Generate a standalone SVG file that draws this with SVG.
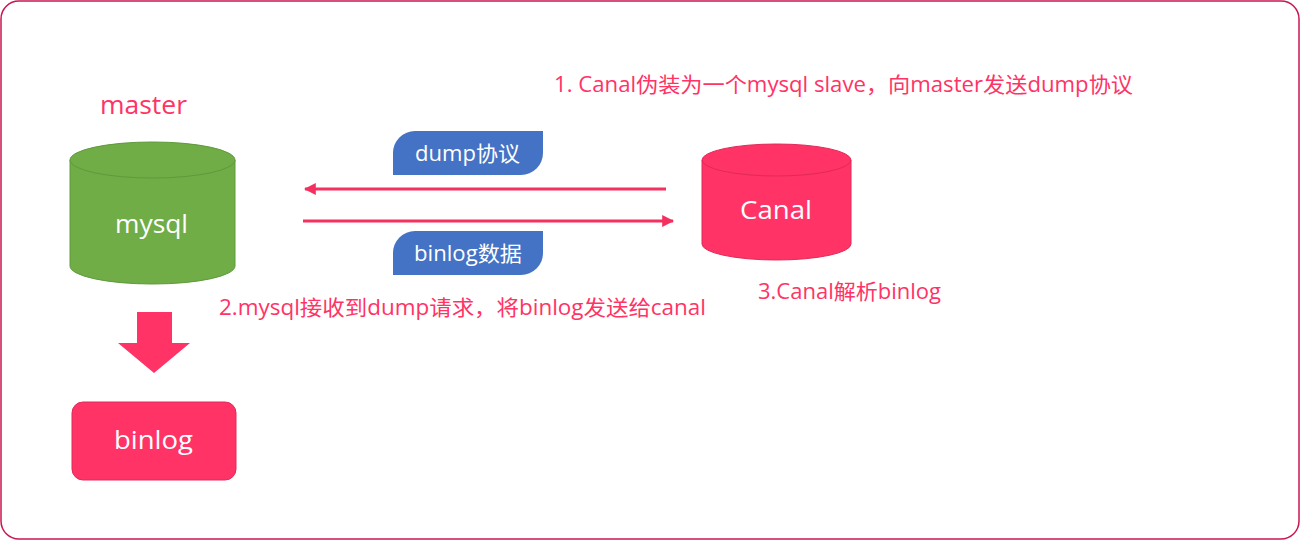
<svg xmlns="http://www.w3.org/2000/svg" width="1301" height="541" viewBox="0 0 1301 541">
<style>
.t{font-family:"Open Sans","Noto Sans CJK SC",sans-serif}
.pk{fill:#ff3366}
.w{fill:#fff}
.line{stroke:#f5305e;stroke-width:3;fill:none}
</style>
<defs>
<marker id="ah" viewBox="0 0 10 10" refX="9" refY="5" markerWidth="4" markerHeight="4" orient="auto-start-reverse"><path d="M0,0L10,5L0,10z" fill="#f5305e"/></marker>
</defs>
<rect x="1" y="1" width="1298" height="538" rx="18" fill="#fff" stroke="#c8174f" stroke-width="1.5"/>
<text class="t pk" x="100" y="114" font-size="25" textLength="87" lengthAdjust="spacingAndGlyphs">master</text>
<g id="mysql">
<path d="M70,160 L70,266 A82.5,18 0 0 0 235,266 L235,160 Z" fill="#70ad47" stroke="#5f9a3b"/>
<ellipse cx="152.5" cy="160" rx="82.5" ry="18" fill="#70ad47" stroke="#5f9a3b"/>
<text class="t w" x="115" y="233" font-size="25" textLength="73" lengthAdjust="spacingAndGlyphs">mysql</text>
</g>
<g id="canal">
<path d="M702,160 L702,244 A74.5,16 0 0 0 851,244 L851,160 Z" fill="#ff3366" stroke="#e02a58"/>
<ellipse cx="776.5" cy="160" rx="74.5" ry="16" fill="#ff3366" stroke="#e02a58"/>
<text class="t w" x="740" y="219" font-size="25" textLength="72" lengthAdjust="spacingAndGlyphs">Canal</text>
</g>
<g id="binlog">
<rect x="72" y="402" width="164" height="78" rx="11" fill="#ff3366" stroke="#e02a58"/>
<text class="t w" x="114" y="449" font-size="25" textLength="79" lengthAdjust="spacingAndGlyphs">binlog</text>
</g>
<g id="label-dump">
<path d="M415,131 L543,131 L543,153 A22,22 0 0 1 521,175 L393,175 L393,153 A22,22 0 0 1 415,131 Z" fill="#4472c4"/>
<text class="t w" x="415" y="161" font-size="21" textLength="105" lengthAdjust="spacingAndGlyphs">dump协议</text>
</g>
<g id="label-binlog">
<path d="M415,231 L543,231 L543,253 A22,22 0 0 1 521,275 L393,275 L393,253 A22,22 0 0 1 415,231 Z" fill="#4472c4"/>
<text class="t w" x="414" y="261" font-size="21" textLength="108" lengthAdjust="spacingAndGlyphs">binlog数据</text>
</g>
<g id="connectors">
<line class="line" x1="666" y1="189" x2="305" y2="189" marker-end="url(#ah)"/>
<line class="line" x1="303" y1="221" x2="673" y2="221" marker-end="url(#ah)"/>
<path d="M137,312 L172,312 L172,343 L190,343 L154,373 L118,343 L137,343 Z" fill="#ff3366"/>
</g>
<text class="t pk" x="554" y="92" font-size="21" textLength="579" lengthAdjust="spacingAndGlyphs">1. Canal伪装为一个mysql slave，向master发送dump协议</text>
<text class="t pk" x="219" y="315" font-size="21" textLength="487" lengthAdjust="spacingAndGlyphs">2.mysql接收到dump请求，将binlog发送给canal</text>
<text class="t pk" x="758" y="299" font-size="21" textLength="183" lengthAdjust="spacingAndGlyphs">3.Canal解析binlog</text>
</svg>
